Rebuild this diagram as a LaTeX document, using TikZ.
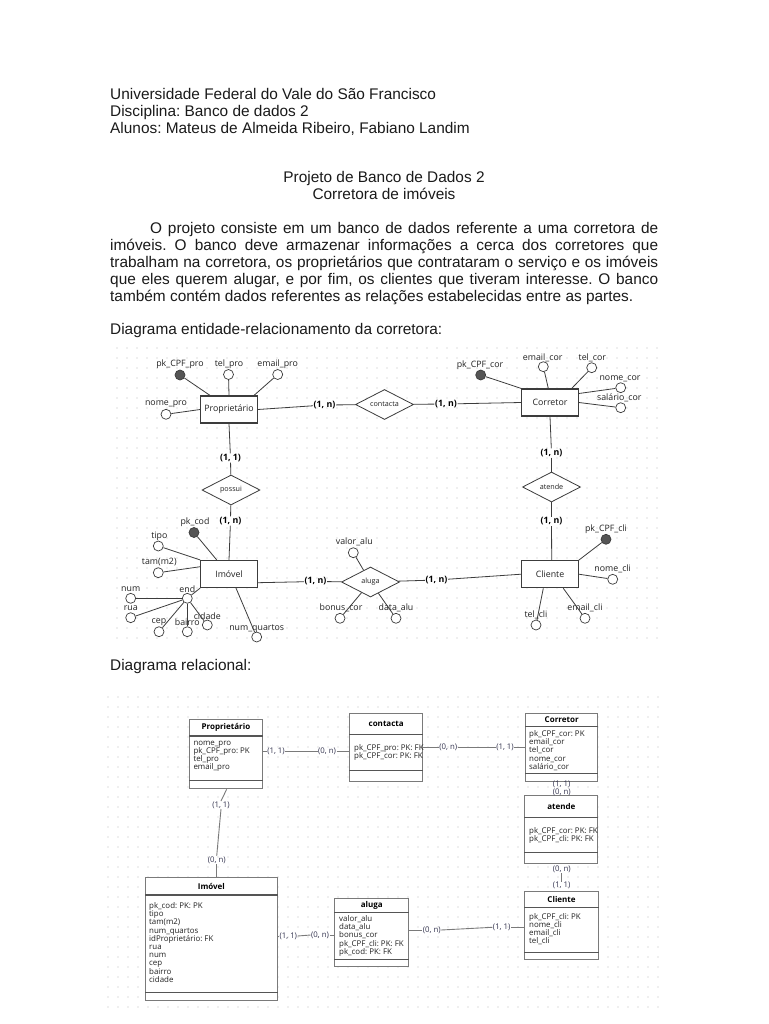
\documentclass[tikz,border=0pt]{standalone}
\usepackage{fontspec}
\setmainfont{Liberation Sans}
\newfontfamily\dgf{Open Sans}
\usetikzlibrary{shapes.geometric}
\definecolor{ink}{HTML}{1A1A1A}
\definecolor{dline}{HTML}{3C3C3C}
\definecolor{dtext}{HTML}{222222}
\definecolor{gdot}{HTML}{BDBDBD}
\definecolor{tbord}{HTML}{7A7A7A}
\definecolor{rlab}{HTML}{33334F}
\definecolor{keyc}{HTML}{555555}
\frenchspacing
\begin{document}
\frenchspacing
\begin{tikzpicture}[x=1pt,y=-1pt,
  txt/.style={anchor=base west, inner sep=0, font=\frenchspacing\fontsize{15.4}{17}\selectfont, text=ink},
  ctxt/.style={txt, anchor=base},
  ent/.style={draw=dline, line width=1.2, fill=white, minimum width=56.5, minimum height=27, inner sep=0, font=\dgf\fontsize{8.8}{10}\selectfont, text=dtext},
  rel/.style={diamond, aspect=2, draw=dline, line width=0.8, fill=white, minimum width=58, minimum height=30, inner sep=0, font=\dgf\fontsize{7.2}{8}\selectfont, text=dtext},
  attr/.style={circle, draw=dline, line width=0.7, fill=white, minimum size=10, inner sep=0},
  keyat/.style={attr, fill=keyc},
  alab/.style={inner sep=0, font=\dgf\fontsize{8.8}{9}\selectfont, text=dtext},
  card/.style={inner sep=0.6, font=\dgf\bfseries\fontsize{8.8}{9}\selectfont, text=black},
  cn/.style={draw=dline, line width=0.8},
  tbl/.style={draw=tbord, line width=1.1, fill=white, inner sep=0, anchor=north west},
  tsep/.style={draw=tbord!70!black, line width=1.3},
  thead/.style={inner sep=0, font=\dgf\bfseries\fontsize{8}{9}\selectfont, text=black},
  tfld/.style={anchor=north west, inner sep=0, align=left, font=\dgf\fontsize{7.9}{8.2}\selectfont, text=dtext},
  rcard/.style={inner sep=0.4, font=\dgf\fontsize{7.8}{8}\selectfont, text=rlab},
  rcn/.style={draw=tbord, line width=0.9}
]
\useasboundingbox[fill=white] (0,0) rectangle (768,1024);

% ---------- text ----------
\node[txt] (h1) at (110,99.5) {Universidade Federal do Vale do São Francisco};
\node[txt] (h2) at (110,116.5) {Disciplina: Banco de dados 2};
\node[txt] (h3) at (110,133.5) {Alunos: Mateus de Almeida Ribeiro, Fabiano Landim};
\node[ctxt] (t1) at (384,182.5) {Projeto de Banco de Dados 2};
\node[ctxt] (t2) at (384,199.5) {Corretora de imóveis};
\node[txt] (p1) at (110,233.5) {\hbox to 548pt{\hspace*{40pt}O projeto consiste em um banco de dados referente a uma corretora de}};
\node[txt] (p2) at (110,250.5) {\hbox to 548pt{imóveis. O banco deve armazenar informações a cerca dos corretores que}};
\node[txt] (p3) at (110,267.5) {\hbox to 548pt{trabalham na corretora, os proprietários que contrataram o serviço e os imóveis}};
\node[txt] (p4) at (110,284.5) {\hbox to 548pt{que eles querem alugar, e por fim, os clientes que tiveram interesse. O banco}};
\node[txt] (p5) at (110,301.5) {também contém dados referentes as relações estabelecidas entre as partes.};
\node[txt] (d1) at (110,334.5) {Diagrama entidade-relacionamento da corretora:};
\node[txt] (d2) at (110,670.5) {Diagrama relacional:};

% ---------- grids ----------
\foreach \i in {0,...,54}{\foreach \j in {0,...,29}{\fill[gdot] (117+\i*10,348+\j*10) circle (0.6);}}
\foreach \i in {0,...,55}{\foreach \j in {0,...,31}{\fill[gdot] (108+\i*10,697+\j*10) circle (0.6);}}

% ---------- ER diagram ----------
\node[ent] (prop) at (229,409.5) {Proprietário};
\node[ent] (corr) at (550,402.5) {Corretor};
\node[ent] (imo) at (229,574) {Imóvel};
\node[ent] (cli) at (550,574.2) {Cliente};
\node[rel] (contacta) at (384.5,404.5) {contacta};
\node[rel] (possui) at (231,490) {possui};
\node[rel] (atende) at (551.5,487) {atende};
\node[rel] (aluga) at (370.5,582) {aluga};

\node[card] (c1) at (324.5,405) {(1, n)};
\node[card] (c2) at (446,404) {(1, n)};
\node[card] (c3) at (230.5,458) {(1, 1)};
\node[card] (c4) at (230.5,521) {(1, n)};
\node[card] (c5) at (551.5,453) {(1, n)};
\node[card] (c6) at (551.5,521.5) {(1, n)};
\node[card] (c7) at (315.5,581.5) {(1, n)};
\node[card] (c8) at (436.5,580) {(1, n)};

\draw[cn] (prop.east) -- (c1);
\draw[cn] (c1) -- (contacta);
\draw[cn] (contacta) -- (c2);
\draw[cn] (c2) -- (corr.west);
\draw[cn] (prop.south) -- (c3);
\draw[cn] (c3) -- (possui);
\draw[cn] (possui) -- (c4);
\draw[cn] (c4) -- (imo.north);
\draw[cn] (corr.south) -- (c5);
\draw[cn] (c5) -- (atende);
\draw[cn] (atende) -- (c6);
\draw[cn] (c6) -- ([xshift=1.7]cli.north);
\draw[cn] ([yshift=-8.7]imo.east) -- (c7);
\draw[cn] (c7) -- (aluga);
\draw[cn] (aluga) -- (c8);
\draw[cn] (c8) -- (cli.west);

% Proprietario attributes
\node[keyat] (a1) at (180,375) {};
\node[alab] (l1) at (180,364) {pk\_CPF\_pro};
\node[attr] (a2) at (228.5,374.5) {};
\node[alab] (l2) at (229,364) {tel\_pro};
\node[attr] (a3) at (277.7,374.5) {};
\node[alab] (l3) at (277.7,364) {email\_pro};
\node[attr] (a4) at (166,414.3) {};
\node[alab] (l4) at (166,404) {nome\_pro};
\draw[cn] (a1) -- ([xshift=-19]prop.north);
\draw[cn] (a2) -- (prop.north);
\draw[cn] (a3) -- ([xshift=25]prop.north);
\draw[cn] (a4) -- (prop.west);

% Corretor attributes
\node[keyat] (a5) at (480.7,375) {};
\node[alab] (l5) at (480,365) {pk\_CPF\_cor};
\node[attr] (a6) at (543.3,366.7) {};
\node[alab] (l6) at (542.7,357.5) {email\_cor};
\node[attr] (a7) at (591.7,367.7) {};
\node[alab] (l7) at (592.3,357.5) {tel\_cor};
\node[attr] (a8) at (620.7,387.7) {};
\node[alab] (l8) at (620,378.3) {nome\_cor};
\node[attr] (a9) at (620.7,407.7) {};
\node[alab] (l9) at (619.3,398.3) {salário\_cor};
\draw[cn] (a5) -- (corr.north west);
\draw[cn] (a6) -- ([xshift=-1.7]corr.north);
\draw[cn] (a7) -- ([xshift=21.7]corr.north);
\draw[cn] (a8) -- ([yshift=9]corr.east);
\draw[cn] (a9) -- (corr.east);

% Imovel attributes
\node[keyat] (a10) at (194,532.5) {};
\node[alab] (l10) at (195,522.5) {pk\_cod};
\node[attr] (a11) at (158.3,546) {};
\node[alab] (l11) at (159.3,536) {tipo};
\node[attr] (a12) at (158.3,572.7) {};
\node[alab] (l12) at (159.3,561.7) {tam(m2)};
\node[attr] (a13) at (187.3,598.3) {};
\node[alab] (l13) at (187.3,589.3) {end};
\node[attr] (a14) at (130.7,598.3) {};
\node[alab] (l14) at (130.7,589) {num};
\node[attr] (a15) at (130.7,617.7) {};
\node[alab] (l15) at (130.7,608.3) {rua};
\node[attr] (a16) at (159,631.7) {};
\node[alab] (l16) at (159,622.3) {cep};
\node[attr] (a17) at (187.3,631.7) {};
\node[alab] (l17) at (187.3,622.3) {bairro};
\node[attr] (a18) at (207.3,625) {};
\node[alab] (l18) at (207.3,615.7) {cidade};
\node[attr] (a19) at (256.7,637) {};
\node[alab] (l19) at (256.7,628.3) {num\_quartos};
\draw[cn] (a10) -- ([xshift=-12.3]imo.north);
\draw[cn] (a11) -- (imo.north west);
\draw[cn] (a12) -- ([yshift=7.3]imo.west);
\draw[cn] (a13) -- (imo.south west);
\draw[cn] (a14) -- (a13);
\draw[cn] (a15) -- (a13);
\draw[cn] (a16) -- (a13);
\draw[cn] (a17) -- (a13);
\draw[cn] (a18) -- (a13);
\draw[cn] (a19) -- ([xshift=7]imo.south);

% aluga attributes
\node[attr] (a20) at (353.3,552.7) {};
\node[alab] (l20) at (354.3,542.3) {valor\_alu};
\node[attr] (a21) at (340,618.3) {};
\node[alab] (l21) at (341,608.3) {bonus\_cor};
\node[attr] (a22) at (396,618.3) {};
\node[alab] (l22) at (396,608.3) {data\_alu};
\draw[cn] (a20) -- (aluga);
\draw[cn] (a21) -- (aluga);
\draw[cn] (a22) -- (aluga);

% Cliente attributes
\node[keyat] (a23) at (606,539.3) {};
\node[alab] (l23) at (606,529) {pk\_CPF\_cli};
\node[attr] (a24) at (612.7,579.3) {};
\node[alab] (l24) at (612.7,569) {nome\_cli};
\node[attr] (a25) at (536,625) {};
\node[alab] (l25) at (536,615) {tel\_cli};
\node[attr] (a26) at (585,618.3) {};
\node[alab] (l26) at (585,608.3) {email\_cli};
\draw[cn] (a23) -- (cli.north east);
\draw[cn] (a24) -- (cli.east);
\draw[cn] (a25) -- ([xshift=-6.7]cli.south);
\draw[cn] (a26) -- ([xshift=13.3]cli.south);

% ---------- relational diagram ----------
\node[tbl, minimum width=72.7, minimum height=69] (tprop) at (189,719.3) {};
\draw[tsep] ([yshift=-16.7]tprop.north west) -- ([yshift=-16.7]tprop.north east);
\draw[tsep] ([yshift=9]tprop.south west) -- ([yshift=9]tprop.south east);
\node[thead] (hprop) at ([yshift=-8.5]tprop.north) {Proprietário};
\node[tfld] (fprop) at (193.3,740.5) {nome\_pro\\pk\_CPF\_pro: PK\\tel\_pro\\email\_pro};

\node[tbl, minimum width=73.3, minimum height=68] (tcont) at (349,712.7) {};
\draw[tsep] ([yshift=-21.6]tcont.north west) -- ([yshift=-21.6]tcont.north east);
\draw[tsep] ([yshift=11.4]tcont.south west) -- ([yshift=11.4]tcont.south east);
\node[thead] (hcont) at ([yshift=-11]tcont.north) {contacta};
\node[tfld] (fcont) at (354,744.5) {pk\_CPF\_pro: PK: FK\\pk\_CPF\_cor: PK: FK};

\node[tbl, minimum width=72.3, minimum height=68] (tcorr) at (525,712.7) {};
\draw[tsep] ([yshift=-14]tcorr.north west) -- ([yshift=-14]tcorr.north east);
\draw[tsep] ([yshift=8]tcorr.south west) -- ([yshift=8]tcorr.south east);
\node[thead] (hcorr) at ([yshift=-7]tcorr.north) {Corretor};
\node[tfld] (fcorr) at (529,730.2) {pk\_CPF\_cor: PK\\email\_cor\\tel\_cor\\nome\_cor\\salário\_cor};

\node[tbl, minimum width=73, minimum height=68.3] (taten) at (524.3,795) {};
\draw[tsep] ([yshift=-22.3]taten.north west) -- ([yshift=-22.3]taten.north east);
\draw[tsep] ([yshift=11.6]taten.south west) -- ([yshift=11.6]taten.south east);
\node[thead] (haten) at ([yshift=-11.5]taten.north) {atende};
\node[tfld] (faten) at (529,827.2) {pk\_CPF\_cor: PK: FK\\pk\_CPF\_cli: PK: FK};

\node[tbl, minimum width=73.4, minimum height=68.6] (tcli) at (524.3,890.7) {};
\draw[tsep] ([yshift=-16.6]tcli.north west) -- ([yshift=-16.6]tcli.north east);
\draw[tsep] ([yshift=7.6]tcli.south west) -- ([yshift=7.6]tcli.south east);
\node[thead] (hcli) at ([yshift=-8.5]tcli.north) {Cliente};
\node[tfld] (fcli) at (529,912.9) {pk\_CPF\_cli: PK\\nome\_cli\\email\_cli\\tel\_cli};

\node[tbl, minimum width=74, minimum height=68.3] (talu) at (334.3,897.7) {};
\draw[tsep] ([yshift=-15]talu.north west) -- ([yshift=-15]talu.north east);
\draw[tsep] ([yshift=7.7]talu.south west) -- ([yshift=7.7]talu.south east);
\node[thead] (halu) at ([yshift=-7.5]talu.north) {aluga};
\node[tfld] (falu) at (339,915.2) {valor\_alu\\data\_alu\\bonus\_cor\\pk\_CPF\_cli: PK: FK\\pk\_cod: PK: FK};

\node[tbl, minimum width=131.7, minimum height=122.7] (timo) at (145,877.3) {};
\draw[tsep] ([yshift=-17.7]timo.north west) -- ([yshift=-17.7]timo.north east);
\draw[tsep] ([yshift=8.3]timo.south west) -- ([yshift=8.3]timo.south east);
\node[thead] (himo) at ([yshift=-9]timo.north) {Imóvel};
\node[tfld] (fimo) at (149,902.2) {pk\_cod: PK: PK\\tipo\\tam(m2)\\num\_quartos\\idProprietário: FK\\rua\\num\\cep\\bairro\\cidade};

% relational cardinalities
\node[rcard] (r1) at (276,751) {(1, 1)};
\node[rcard] (r2) at (327,751) {(0, n)};
\node[rcard] (r3) at (448.3,747.3) {(0, n)};
\node[rcard] (r4) at (505,747.3) {(1, 1)};
\node[rcard] (r5) at (561.7,784) {(1, 1)};
\node[rcard] (r6) at (561.7,792.3) {(0, n)};
\node[rcard] (r7) at (561.7,869) {(0, n)};
\node[rcard] (r8) at (561.7,885.7) {(1, 1)};
\node[rcard] (r9) at (221,805) {(1, 1)};
\node[rcard] (r10) at (216.7,860) {(0, n)};
\node[rcard] (r11) at (288.3,936) {(1, 1)};
\node[rcard] (r12) at (320,935) {(0, n)};
\node[rcard] (r13) at (431.7,930) {(0, n)};
\node[rcard] (r14) at (501.7,927.3) {(1, 1)};

\draw[rcn] (r1.west -| tprop.east) -- (r1.west);
\draw[rcn] (r1.east) -- (r2.west);
\draw[rcn] (r2.east) -- (r2.east -| tcont.west);
\draw[rcn] (r3.west -| tcont.east) -- (r3.west);
\draw[rcn] (r3.east) -- (r4.west);
\draw[rcn] (r4.east) -- (r4.east -| tcorr.west);
\draw[rcn] (r7.south) -- (r8.north);
\draw[rcn] ([xshift=0.7]tprop.south) -- (r9.north);
\draw[rcn] (r9.south) -- (r10.north);
\draw[rcn] (r10.south) -- (r10.south |- timo.north);
\draw[rcn] (r11.west -| timo.east) -- (r11.west);
\draw[rcn] (r11.east) -- (r12.west);
\draw[rcn] (r12.east) -- (r12.east -| talu.west);
\draw[rcn] (r13.west -| talu.east) -- (r13.west);
\draw[rcn] (r13.east) -- (r14.west);
\draw[rcn] (r14.east) -- (r14.east -| tcli.west);
\end{tikzpicture}
\end{document}
